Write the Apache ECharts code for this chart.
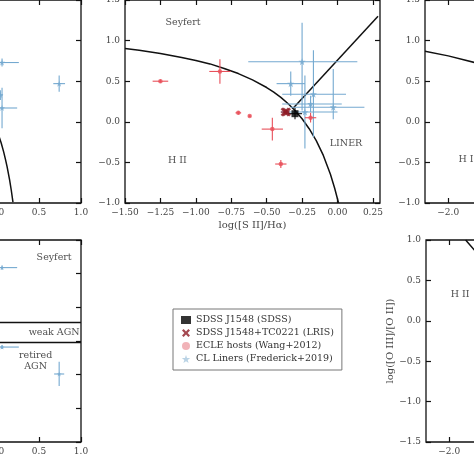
<!DOCTYPE html>
<html><head><meta charset="utf-8">
<script src="https://cdn.jsdelivr.net/npm/echarts@6/dist/echarts.min.js"></script>
<style>html,body{margin:0;padding:0;background:#fff}#c{width:474px;height:474px}</style>
</head><body><div id="c"></div>
<script>
// ---- data: [x, y, xErrLo, xErrHi, yErrLo, yErrHi]
var sdssSII = [[-0.30, 0.10, 0.05, 0.05, 0.07, 0.07]];
var lrisSII = [[-0.37, 0.12, 0.03, 0.03, 0.04, 0.04], [-0.36, 0.12, 0.02, 0.02, 0.03, 0.03]];
var ecleSII = [
  [-1.25, 0.50, 0.055, 0.055, 0.02, 0.02],
  [-0.83, 0.62, 0.075, 0.075, 0.15, 0.15],
  [-0.70, 0.11, 0.02, 0.02, 0.02, 0.02],
  [-0.62, 0.07, 0.01, 0.01, 0.01, 0.01],
  [-0.46, -0.09, 0.075, 0.075, 0.14, 0.14],
  [-0.40, -0.52, 0.04, 0.04, 0.05, 0.05],
  [-0.19, 0.05, 0.04, 0.04, 0.06, 0.06]
];
var clSII = [
  [-0.25, 0.74, 0.38, 0.39, 0.60, 0.48],
  [-0.33, 0.47, 0.10, 0.10, 0.15, 0.15],
  [-0.17, 0.34, 0.22, 0.23, 0.53, 0.54],
  [-0.19, 0.22, 0.20, 0.22, 0.10, 0.10],
  [-0.03, 0.18, 0.30, 0.22, 0.15, 0.47],
  [-0.23, 0.12, 0.17, 0.23, 0.45, 0.45]
];
var clNII = [
  [0.06, 0.73, 0.10, 0.20, 0.05, 0.05],
  [0.74, 0.47, 0.07, 0.07, 0.10, 0.10],
  [0.04, 0.33, 0.03, 0.03, 0.06, 0.06],
  [0.06, 0.17, 0.10, 0.18, 0.25, 0.25]
];
var clWHAN = [
  [0.06, 1.59, 0.10, 0.18, 0.03, 0.03],
  [0.06, 0.41, 0.10, 0.20, 0.03, 0.03],
  [0.74, 0.01, 0.06, 0.06, 0.18, 0.18]
];
var kewleyNII = [[-0.5,0.561],[-0.25,0.343],[0,-0.108],[0.02,-0.166],[0.05,-0.262],[0.08,-0.374],[0.1,-0.459],[0.12,-0.553],[0.15,-0.716],[0.17,-0.843],[0.19,-0.989]];
var kewleySII = [[-1.5,0.904],[-1.4,0.881],[-1.25,0.841],[-1.1,0.793],[-1.0,0.755],[-0.9,0.713],[-0.8,0.657],[-0.7,0.594],[-0.6,0.517],[-0.5,0.422],[-0.45,0.365],[-0.4,0.30],[-0.35,0.225],[-0.3,0.139],[-0.25,0.037],[-0.2,-0.085],[-0.15,-0.232],[-0.1,-0.414],[-0.05,-0.646],[-0.02,-0.818],[0.0,-0.95],[0.007,-1.0]];
var linerSII = [[-0.31,0.174],[0.286,1.30]];
var kewleyOI = [[-2.17,0.868],[-2.0,0.812],[-1.8,0.727],[-1.65,0.641],[-1.5,0.528],[-1.35,0.369],[-1.2,0.133]];
var oiiiLine = [[-1.88,1.0],[-1.75,0.75],[-1.6,0.47]];
var whanLines = [0.778, 0.477];
var textsSII = [[-1.09,1.22,'Seyfert'],[0.06,-0.27,'LINER'],[-1.13,-0.48,'H II']];
var textsWHAN = [[0.68,1.74,'Seyfert'],[0.68,0.63,'weak AGN'],[0.46,0.20,'retired\nAGN']];
var textsOI = [[-1.87,-0.47,'H I']];
var textsOIII = [[-1.92,0.33,'H II']];
var legendNames = ['SDSS J1548 (SDSS)','SDSS J1548+TC0221 (LRIS)','ECLE hosts (Wang+2012)','CL Liners (Frederick+2019)'];

var FONT = 'DejaVu Serif';
var grids = [
  {left:-45, top:0, width:126, height:203, x:[-0.5,1.0], y:[-1,1.5], xi:0.5, yi:0.5, dec:1},
  {left:125, top:0, width:255, height:203, x:[-1.5,0.3], y:[-1,1.5], yi:0.5, dec:2, xcv:[-1.5,-1.25,-1,-0.75,-0.5,-0.25,0,0.25]},
  {left:425, top:0, width:164, height:203, x:[-2.17,-0.97], y:[-1,1.5], yi:0.5, dec:1, xcv:[-2.0,-1.5,-1.0]},
  {left:-45, top:240, width:126, height:202, x:[-0.5,1.0], y:[-1,2.0], xi:0.5, yi:0.5, dec:1},
  {left:426, top:240, width:164, height:202, x:[-2.17,-0.97], y:[-1.5,1.0], yi:0.5, dec:1, xcv:[-2.0,-1.5,-1.0]}
];
var gridOpt=[], xAxes=[], yAxes=[];
function mkFmt(d){ return function(v){ return (v<-1e-9?'\u2212':'')+Math.abs(v).toFixed(d); }; }
grids.forEach(function(g,i){
  gridOpt.push({left:g.left, top:g.top, width:g.width, height:g.height, show:true, borderColor:'#111', borderWidth:1.3,
    backgroundColor:'transparent', outerBoundsMode:'none', containLabel:false});
  var tick = {inside:true, length:5, lineStyle:{color:'#111', width:1.2}};
  var lab = {fontFamily:FONT, fontSize:9, color:'#444', margin:5, formatter:mkFmt(g.dec)};
  var bx = {type:'value', gridIndex:i, min:g.x[0], max:g.x[1], splitLine:{show:false}, axisLine:{show:false, onZero:false},
    axisTick:Object.assign({},tick), axisLabel:lab};
  if(g.xi) bx.interval=g.xi;
  if(g.xcv){ bx.axisTick.customValues=g.xcv; bx.axisLabel=Object.assign({},lab,{customValues:g.xcv}); }
  xAxes.push(bx);
  var tx = {type:'value', gridIndex:i, position:'top', min:g.x[0], max:g.x[1], splitLine:{show:false},
    axisLine:{show:false, onZero:false}, axisTick:Object.assign({},tick), axisLabel:{show:false}};
  if(g.xi) tx.interval=g.xi;
  if(g.xcv){ tx.axisTick.customValues=g.xcv; tx.axisLabel={show:false, customValues:g.xcv}; }
  xAxes.push(tx);
  yAxes.push({type:'value', gridIndex:i, min:g.y[0], max:g.y[1], interval:g.yi, splitLine:{show:false},
    axisLine:{show:false, onZero:false}, axisTick:Object.assign({},tick), axisLabel:Object.assign({},lab,{formatter:mkFmt(1)})});
  yAxes.push({type:'value', gridIndex:i, position:'right', min:g.y[0], max:g.y[1], interval:g.yi, splitLine:{show:false},
    axisLine:{show:false, onZero:false}, axisTick:Object.assign({},tick), axisLabel:{show:false}});
});
xAxes[2].name='log([S II]/H\u03b1)'; xAxes[2].nameLocation='middle'; xAxes[2].nameGap=17;
xAxes[2].nameTextStyle={fontFamily:FONT, fontSize:10, color:'#444'};
yAxes[8].name='log([O III]/[O II])'; yAxes[8].nameLocation='middle'; yAxes[8].nameGap=24;
yAxes[8].nameTextStyle={fontFamily:FONT, fontSize:10, color:'#444'};

var series=[];
function errSeries(data, gi, color){
  series.push({type:'custom', xAxisIndex:gi*2, yAxisIndex:gi*2, data:data, z:2, silent:true, clip:true,
    renderItem:function(p, api){
      var x=api.value(0), y=api.value(1);
      var a=api.coord([x-api.value(2),y]), b=api.coord([x+api.value(3),y]);
      var c=api.coord([x,y-api.value(4)]), d=api.coord([x,y+api.value(5)]);
      var st={stroke:color, lineWidth:1.1};
      return {type:'group', children:[
        {type:'line', shape:{x1:a[0],y1:a[1],x2:b[0],y2:b[1]}, style:st},
        {type:'line', shape:{x1:c[0],y1:c[1],x2:d[0],y2:d[1]}, style:st}]};
    }});
}
var STAR='path://M5,0L6.2,3.6L10,3.6L7,5.9L8.1,9.5L5,7.3L1.9,9.5L3,5.9L0,3.6L3.8,3.6Z';
function pts(data, gi, name, symbol, size, color, z){
  series.push({type:'scatter', name:name, xAxisIndex:gi*2, yAxisIndex:gi*2, symbol:symbol, symbolSize:size,
    itemStyle:{color:color}, z:z||3, data:data.map(function(d){return [d[0],d[1]];})});
}
function line(data, gi){
  series.push({type:'line', xAxisIndex:gi*2, yAxisIndex:gi*2, data:data, showSymbol:false, symbol:'none', clip:true,
    lineStyle:{color:'#111', width:1.5}, z:1, silent:true});
}
function texts(data, gi){
  series.push({type:'scatter', xAxisIndex:gi*2, yAxisIndex:gi*2, symbolSize:0, silent:true,
    data:data.map(function(d){return {value:[d[0],d[1]], label:{show:true, formatter:d[2]}};}),
    label:{position:'inside', fontFamily:FONT, fontSize:9.5, color:'#222', lineHeight:11, align:'center'}});
}
var RED='#e8505a', BLUE='#74a9d0', DRED='#8e1b25';
var CROSS='path://M2,0L5,3L8,0L10,2L7,5L10,8L8,10L5,7L2,10L0,8L3,5L0,2Z';
line(kewleyNII,0); errSeries(clNII,0,BLUE); pts(clNII,0,legendNames[3],STAR,6,BLUE);
line(kewleySII,1); line(linerSII,1);
errSeries(clSII,1,BLUE); errSeries(ecleSII,1,RED); errSeries(lrisSII,1,DRED); errSeries(sdssSII,1,'#111');
pts(clSII,1,legendNames[3],STAR,7,BLUE);
pts(ecleSII,1,legendNames[2],'circle',4.5,RED);
pts(lrisSII,1,legendNames[1],CROSS,9,DRED,4);
pts(sdssSII,1,legendNames[0],'rect',7,'#000',5);
texts(textsSII,1);
line(kewleyOI,2); texts(textsOI,2);
series.push({type:'line', xAxisIndex:6, yAxisIndex:6, data:[], markLine:{silent:true, symbol:'none', label:{show:false},
  lineStyle:{color:'#111', width:1.3, type:'solid'}, data:whanLines.map(function(v){return {yAxis:v};})}});
errSeries(clWHAN,3,BLUE); pts(clWHAN,3,legendNames[3],STAR,5,BLUE);
texts(textsWHAN,3);
line(oiiiLine,4); texts(textsOIII,4);

var chart = echarts.init(document.getElementById('c'), null, {renderer:'canvas'});
chart.setOption({
  animation:false, backgroundColor:'#fff',
  grid:gridOpt, xAxis:xAxes, yAxis:yAxes, series:series,
  legend:{left:173, top:309, orient:'vertical', itemGap:3, itemWidth:10, itemHeight:8, padding:[6,8,6,8],
    borderColor:'#777', borderWidth:1, borderRadius:0, backgroundColor:'#fff',
    textStyle:{fontFamily:FONT, fontSize:9.5, color:'#333'},
    data:[{name:legendNames[0], icon:'rect'},{name:legendNames[1], icon:CROSS},
          {name:legendNames[2], icon:'circle', itemStyle:{color:'#eea0a6'}},
          {name:legendNames[3], itemStyle:{color:'#a9c8de'}}]}
});
</script></body></html>
